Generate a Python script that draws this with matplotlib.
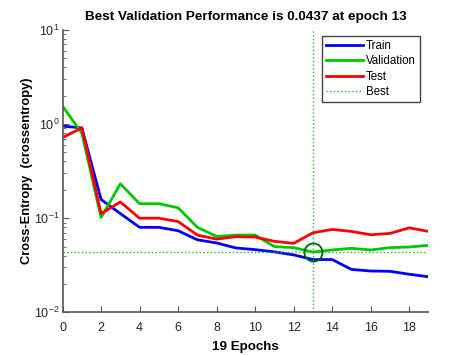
import numpy as np
import matplotlib
matplotlib.use("Agg")
import matplotlib.pyplot as plt

plt.rcParams['font.family'] = ['Liberation Sans', 'DejaVu Sans']

epochs = np.arange(0, 20)
train = [0.95, 0.91, 0.158, 0.112, 0.080, 0.080, 0.0736, 0.059, 0.0546, 0.0483,
         0.0464, 0.0439, 0.0408, 0.0364, 0.0364, 0.0286, 0.0275, 0.0273, 0.0254, 0.0239]
validation = [1.55, 0.80, 0.1016, 0.232, 0.1425, 0.1425, 0.129, 0.080, 0.064, 0.0662,
              0.0662, 0.0499, 0.0487, 0.0437, 0.046, 0.0479, 0.046, 0.0487, 0.0495, 0.0515]
test = [0.718, 0.91, 0.112, 0.1486, 0.100, 0.100, 0.0922, 0.0662, 0.060, 0.0637,
        0.063, 0.0568, 0.0541, 0.070, 0.076, 0.0724, 0.0667, 0.0689, 0.079, 0.0724]
best_epoch = 13
best_perf = 0.0437

fig = plt.figure(figsize=(4.74, 3.55), dpi=100)
ax = fig.add_axes([0.132, 0.12, 0.772, 0.796])

ax.semilogy(epochs, train, color='#0000ff', lw=2, label='Train')
ax.semilogy(epochs, validation, color='#00c800', lw=2, label='Validation')
ax.semilogy(epochs, test, color='#ff0000', lw=2, label='Test')
ax.axvline(best_epoch, color='#33b033', ls=':', lw=1, label='Best')
ax.axhline(best_perf, color='#33b033', ls=':', lw=1)
ax.plot(best_epoch, best_perf, 'o', mfc='none', mec='#006400', ms=13, mew=1.3)

ax.set_xlim(0, 19)
ax.set_ylim(0.01, 10)
ax.set_xticks(np.arange(0, 19, 2))
for s in ['top', 'right']:
    ax.spines[s].set_visible(False)
for s in ['left', 'bottom']:
    ax.spines[s].set_color('#555555')
    ax.spines[s].set_linewidth(1.2)
ax.tick_params(direction='in', which='both', colors='#555555', labelcolor='#262626', labelsize=9)
ax.tick_params(which='major', length=4)
ax.tick_params(which='minor', length=2)
ax.tick_params(axis='x', pad=7)
ax.tick_params(axis='y', pad=2)

ax.set_title('Best Validation Performance is 0.0437 at epoch 13', fontsize=9.7, weight='bold', pad=7)
ax.set_xlabel('19 Epochs', fontsize=9.6, weight='bold', labelpad=5)
ax.set_ylabel('Cross-Entropy  (crossentropy)', fontsize=9.3, weight='bold', labelpad=1)

leg = ax.legend(loc='upper right', bbox_to_anchor=(0.977, 0.979), borderaxespad=0, fontsize=8.3,
                fancybox=False, framealpha=1, handlelength=3.2, borderpad=0.35,
                labelspacing=0.3, handletextpad=0.3)
leg.get_frame().set_edgecolor('#444444')

fig.savefig('out.png', dpi=100)
